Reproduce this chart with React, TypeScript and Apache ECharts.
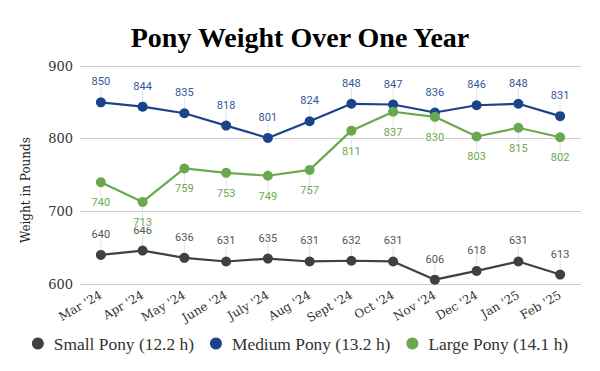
import React, { useEffect, useRef } from "react";
import * as echarts from "echarts";

const months = ["Mar '24", "Apr '24", "May '24", "June '24", "July '24", "Aug '24", "Sept '24", "Oct '24", "Nov '24", "Dec '24", "Jan '25", "Feb '25"];
const smallPony = [640, 646, 636, 631, 635, 631, 632, 631, 606, 618, 631, 613];
const mediumPony = [850, 844, 835, 818, 801, 824, 848, 847, 836, 846, 848, 831];
const largePony = [740, 713, 759, 753, 749, 757, 811, 837, 830, 803, 815, 802];
const seriesNames = ["Small Pony (12.2 h)", "Medium Pony (13.2 h)", "Large Pony (14.1 h)"];
const yTicks = { min: 600, max: 900, interval: 100 };
const yTitle = "Weight in Pounds";

const colors = ["#404040", "#1b438a", "#69a84f"];
const labelColors = ["#555555", "#33579a", "#6aa84f"];

export default function App() {
  const ref = useRef<HTMLDivElement>(null);
  useEffect(() => {
    if (!ref.current) return;
    document.body.style.margin = "0";
    const chart = echarts.init(ref.current, undefined, { renderer: "svg" });
    const sets = [smallPony, mediumPony, largePony];
    const positions = ["top", "top", "bottom"];

    const lineSeries = sets.map((d, k) => ({
      type: "line",
      name: seriesNames[k],
      data: d,
      symbol: "circle",
      symbolSize: 10,
      z: 3 + k,
      itemStyle: { color: colors[k] },
      lineStyle: { color: colors[k], width: 2.2 },
      label: {
        show: true,
        position: positions[k],
        distance: 10,
        fontFamily: "Roboto",
        fontSize: 11,
        color: labelColors[k],
        textBorderColor: "#fff",
        textBorderWidth: 2,
      },
    }));

    const leaderSeries = sets.map((d, k) => ({
      type: "custom",
      name: "leader" + k,
      z: 1,
      silent: true,
      data: d.map((v, i) => [i, v]),
      renderItem: (params: any, api: any) => {
        const p = api.coord([api.value(0), api.value(1)]);
        const dir = positions[k] === "top" ? -1 : 1;
        return {
          type: "line",
          shape: { x1: p[0], y1: p[1] + dir * 5, x2: p[0], y2: p[1] + dir * 16 },
          style: { stroke: "#e2e2e2", lineWidth: 1 },
        };
      },
    }));

    chart.setOption({
      animation: false,
      title: {
        text: "Pony Weight Over One Year",
        left: "center",
        top: 18,
        textStyle: { fontFamily: "Liberation Serif", fontWeight: "bold", fontSize: 28, color: "#000" },
      },
      legend: {
        data: seriesNames,
        bottom: 14,
        left: "center",
        icon: "circle",
        itemWidth: 12,
        itemHeight: 12,
        itemGap: 16,
        textStyle: { fontFamily: "Liberation Serif", fontSize: 17.4, color: "#333", padding: [0, 0, 0, 5] },
      },
      graphic: [
        {
          type: "text",
          x: 26,
          y: 190,
          rotation: Math.PI / 2,
          style: {
            text: yTitle,
            fontFamily: "DejaVu Serif",
            fontSize: 12,
            fill: "#222",
            align: "center",
            verticalAlign: "middle",
          },
        },
      ],
      grid: { left: 80, right: 19, top: 66, bottom: 87 },
      xAxis: {
        type: "category",
        data: months,
        boundaryGap: true,
        axisLine: { show: false },
        axisTick: { show: false },
        axisLabel: { rotate: 30, interval: 0, margin: 10, fontFamily: "DejaVu Serif", fontSize: 12, color: "#333" },
      },
      yAxis: {
        type: "value",
        min: yTicks.min,
        max: yTicks.max,
        interval: yTicks.interval,
        axisLabel: { fontFamily: "DejaVu Serif", fontSize: 13, color: "#333", margin: 7 },
        splitLine: { lineStyle: { color: "#cccccc", width: 1 } },
        axisLine: { show: false },
        axisTick: { show: false },
      },
      series: [...leaderSeries, ...lineSeries],
    });
    return () => chart.dispose();
  }, []);
  return <div ref={ref} style={{ width: 600, height: 371 }} />;
}
